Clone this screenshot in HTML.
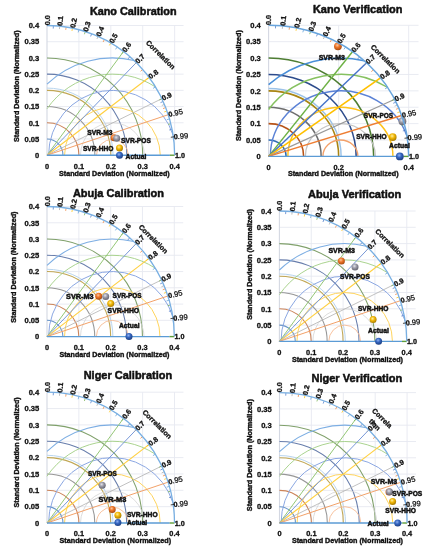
<!DOCTYPE html>
<html><head><meta charset="utf-8"><title>Taylor diagrams</title>
<style>
html,body{margin:0;padding:0;background:#fff;}
svg{display:block;filter:blur(0.3px);}
text{font-family:"Liberation Sans",Arial,sans-serif;font-weight:bold;fill:#111;stroke:#111;stroke-width:0.5px;stroke-linejoin:round;}
text.at{stroke-width:0.38px;}
text.cl{stroke-width:0.32px;}
text.tk{stroke-width:0.3px;}
text.cw{stroke-width:0.3px;}
tspan.nw{font-weight:normal;stroke-width:0.25px;font-size:7.6px;}
</style></head>
<body>
<svg width="430" height="550" viewBox="0 0 430 550">
<defs><radialGradient id="gACT" cx="0.42" cy="0.36" r="0.65"><stop offset="0" stop-color="#8FB0EE"/><stop offset="0.45" stop-color="#3465C0"/><stop offset="1" stop-color="#1E3F80"/></radialGradient><radialGradient id="gHHO" cx="0.42" cy="0.36" r="0.65"><stop offset="0" stop-color="#FFF0A0"/><stop offset="0.45" stop-color="#F2B807"/><stop offset="1" stop-color="#A87A00"/></radialGradient><radialGradient id="gPOS" cx="0.42" cy="0.36" r="0.65"><stop offset="0" stop-color="#E4E4EC"/><stop offset="0.45" stop-color="#9C9CA8"/><stop offset="1" stop-color="#62626E"/></radialGradient><radialGradient id="gM3" cx="0.42" cy="0.36" r="0.65"><stop offset="0" stop-color="#FFC8A0"/><stop offset="0.45" stop-color="#EC7427"/><stop offset="1" stop-color="#A84A10"/></radialGradient></defs>
<rect width="430" height="550" fill="#fff"/>
<path d="M47 138.99H183.57M47 122.77H183.57M47 106.56H183.57M47 90.35H183.57M47 74.14H183.57M47 57.92H183.57M47 41.71H183.57M47 25.5H183.57M78.91 155.2V25.5M110.82 155.2V25.5M142.73 155.2V25.5M174.64 155.2V25.5" stroke="#E6E9F1" stroke-width="0.9" fill="none"/>
<path d="M47 155.2V25.5" stroke="#D4D8E2" stroke-width="1.1" fill="none"/>
<path d="M47 138.99A15.96 16.21 0 0 1 62.95 155.2" stroke="#6996C9" stroke-width="1.066" fill="none"/>
<path d="M47 122.77A31.91 32.43 0 0 1 78.91 155.2" stroke="#CC8459" stroke-width="1.066" fill="none"/>
<path d="M47 106.56A47.87 48.64 0 0 1 94.87 155.2" stroke="#979797" stroke-width="1.066" fill="none"/>
<path d="M47 90.35A63.82 64.85 0 0 1 110.82 155.2" stroke="#C1A754" stroke-width="1.066" fill="none"/>
<path d="M47 88.08A66.05 67.12 0 0 1 113.05 155.2" stroke="#B8D4EE" stroke-width="0.9839999999999999" fill="none"/>
<path d="M47 74.14A79.78 81.06 0 0 1 126.78 155.2" stroke="#687EAC" stroke-width="1.066" fill="none"/>
<path d="M47 57.92A95.73 97.27 0 0 1 142.73 155.2" stroke="#80A16B" stroke-width="1.066" fill="none"/>
<path d="M96.46 155.2A15.96 16.21 0 0 1 128.37 155.2" stroke="#F6BB94" stroke-width="0.902" fill="none"/>
<path d="M80.51 155.2A31.91 32.43 0 0 1 144.33 155.2" stroke="#D5D5D5" stroke-width="0.82" fill="none"/>
<path d="M64.55 155.2A47.87 48.64 0 0 1 160.28 155.2" stroke="#FFD35A" stroke-width="0.9839999999999999" fill="none"/>
<path d="M48.6 155.2A63.82 64.85 0 0 1 173.1 135.13" stroke="#89A5E1" stroke-width="0.9839999999999999" fill="none"/>
<path d="M47 108.8A79.78 81.06 0 0 1 155.59 87.04" stroke="#A8D28D" stroke-width="0.9839999999999999" fill="none"/>
<path d="M47 84.18A95.73 97.27 0 0 1 134.19 60.47" stroke="#7DAEE3" stroke-width="1.066" fill="none"/>
<path d="M47 155.2L123.97 50.92" stroke="#92C573" stroke-width="0.9839999999999999" fill="none"/>
<path d="M47 155.2L136.79 62.11" stroke="#7596D7" stroke-width="0.9839999999999999" fill="none"/>
<path d="M47 155.2L149.62 76.99" stroke="#FFD040" stroke-width="1.148" fill="none"/>
<path d="M47 155.2L162.45 98.38" stroke="#B3B3B3" stroke-width="0.82" fill="none"/>
<path d="M47 155.2L168.86 114.5" stroke="#F29F66" stroke-width="0.9839999999999999" fill="none"/>
<path d="M47 155.2H169.85" stroke="#5B9BD5" stroke-width="1.4" fill="none"/>
<path d="M169.85 155.2H174.64" stroke="#5E9E3A" stroke-width="1.4" fill="none"/>
<g fill="none" opacity="0.9"><path d="M53.24 28.58L53.37 25.99" stroke="#4472C4" stroke-width="0.8"/><path d="M59.48 29.05L59.73 26.47" stroke="#A5A5A5" stroke-width="0.8"/><path d="M65.72 29.85L66.1 27.29" stroke="#ED7D31" stroke-width="0.8"/><path d="M71.95 30.98L72.46 28.44" stroke="#FFC000" stroke-width="0.8"/><path d="M78.19 32.44L78.83 29.93" stroke="#5B9BD5" stroke-width="0.8"/><path d="M84.43 34.26L85.2 31.78" stroke="#70AD47" stroke-width="0.8"/><path d="M90.67 36.44L91.56 34.01" stroke="#4472C4" stroke-width="0.8"/><path d="M96.91 39L97.93 36.63" stroke="#A5A5A5" stroke-width="0.8"/><path d="M103.15 41.98L104.29 39.66" stroke="#ED7D31" stroke-width="0.8"/><path d="M109.38 45.4L110.66 43.16" stroke="#FFC000" stroke-width="0.8"/><path d="M115.62 49.32L117.03 47.15" stroke="#5B9BD5" stroke-width="0.8"/><path d="M121.86 53.77L123.39 51.7" stroke="#70AD47" stroke-width="0.8"/><path d="M128.1 58.85L129.76 56.88" stroke="#4472C4" stroke-width="0.8"/><path d="M134.34 64.66L136.12 62.81" stroke="#A5A5A5" stroke-width="0.8"/><path d="M140.58 71.34L142.49 69.63" stroke="#ED7D31" stroke-width="0.8"/><path d="M146.81 79.13L148.86 77.57" stroke="#FFC000" stroke-width="0.8"/><path d="M153.05 88.41L155.22 87.05" stroke="#5B9BD5" stroke-width="0.8"/><path d="M159.29 99.94L161.59 98.81" stroke="#70AD47" stroke-width="0.8"/><path d="M160.54 102.64L162.86 101.56" stroke="#4472C4" stroke-width="0.8"/><path d="M161.79 105.51L164.14 104.5" stroke="#A5A5A5" stroke-width="0.8"/><path d="M163.03 108.6L165.41 107.65" stroke="#ED7D31" stroke-width="0.8"/><path d="M164.28 111.95L166.68 111.06" stroke="#FFC000" stroke-width="0.8"/><path d="M166.78 119.7L169.23 118.97" stroke="#5B9BD5" stroke-width="0.8"/><path d="M168.03 124.38L170.5 123.75" stroke="#70AD47" stroke-width="0.8"/><path d="M169.27 129.97L171.77 129.45" stroke="#4472C4" stroke-width="0.8"/></g>
<circle cx="114" cy="137.8" r="3.5" fill="url(#gM3)"/>
<circle cx="116.7" cy="138.3" r="3.5" fill="url(#gPOS)"/>
<circle cx="119.5" cy="148" r="3.5" fill="url(#gHHO)"/>
<circle cx="119.5" cy="155.3" r="3.5" fill="url(#gACT)"/>
<path d="M47 25.5A127.64 129.7 0 0 1 174.64 155.2" stroke="#78AFE2" stroke-width="1.3" fill="none"/>
<path d="M170.84 137.27L174.63 136.72" stroke="#333" stroke-width="0.9" fill="none"/>
<text transform="translate(47 25.2) rotate(-90)" x="0" y="2.5" font-size="7.2" class="cl">0.0</text>
<text transform="translate(59.79 25.85) rotate(-84.35)" x="0" y="2.5" font-size="7.2" class="cl">0.1</text>
<text transform="translate(72.59 27.83) rotate(-78.64)" x="0" y="2.5" font-size="7.2" class="cl">0.2</text>
<text transform="translate(85.38 31.19) rotate(-72.8)" x="0" y="2.5" font-size="7.2" class="cl">0.3</text>
<text transform="translate(98.17 36.05) rotate(-66.76)" x="0" y="2.5" font-size="7.2" class="cl">0.4</text>
<text transform="translate(110.97 42.62) rotate(-60.4)" x="0" y="2.5" font-size="7.2" class="cl">0.5</text>
<text transform="translate(123.76 51.2) rotate(-53.57)" x="0" y="2.5" font-size="7.2" class="cl">0.6</text>
<text transform="translate(136.56 62.36) rotate(-46.03)" x="0" y="2.5" font-size="7.2" class="cl">0.7</text>
<text transform="translate(149.35 77.2) rotate(-37.31)" x="0" y="2.5" font-size="7.2" class="cl">0.8</text>
<text transform="translate(162.15 98.53) rotate(-26.2)" x="0" y="2.5" font-size="7.2" class="cl">0.9</text>
<text transform="translate(168.54 114.61) rotate(-12.93)" x="0" y="2.5" font-size="7.2" class="cl">0<tspan class="nw">.95</tspan></text>
<text transform="translate(173.66 136.86) rotate(-4.94)" x="0" y="2.5" font-size="7.2" class="cl">0<tspan class="nw">.99</tspan></text>
<text transform="translate(174.94 155.2) rotate(-0)" x="0" y="2.5" font-size="7.2" class="cl">1.0</text>
<text transform="translate(160.7 54.7) rotate(44.5)" x="0" y="2.5" font-size="7.1" text-anchor="middle" class="cw">Correlation</text>
<text x="39.2" y="157.95" font-size="7.6" text-anchor="end" class="tk">0</text>
<text x="39.2" y="141.74" font-size="7.6" text-anchor="end" class="tk">0.05</text>
<text x="39.2" y="125.52" font-size="7.6" text-anchor="end" class="tk">0.1</text>
<text x="39.2" y="109.31" font-size="7.6" text-anchor="end" class="tk">0.15</text>
<text x="39.2" y="93.1" font-size="7.6" text-anchor="end" class="tk">0.2</text>
<text x="39.2" y="76.89" font-size="7.6" text-anchor="end" class="tk">0.25</text>
<text x="39.2" y="60.67" font-size="7.6" text-anchor="end" class="tk">0.3</text>
<text x="39.2" y="44.46" font-size="7.6" text-anchor="end" class="tk">0.35</text>
<text x="39.2" y="28.25" font-size="7.6" text-anchor="end" class="tk">0.4</text>
<text x="47" y="168.5" font-size="7.4" text-anchor="middle" class="tk">0</text>
<text x="78.91" y="168.5" font-size="7.4" text-anchor="middle" class="tk">0.1</text>
<text x="110.82" y="168.5" font-size="7.4" text-anchor="middle" class="tk">0.2</text>
<text x="142.73" y="168.5" font-size="7.4" text-anchor="middle" class="tk">0.3</text>
<text x="174.64" y="168.5" font-size="7.4" text-anchor="middle" class="tk">0.4</text>
<text x="59.1" y="175.5" font-size="7.2" textLength="110.6" lengthAdjust="spacingAndGlyphs" class="at">Standard Deviation (Normalized)</text>
<text transform="translate(19.3 142) rotate(-90)" x="0" y="0" font-size="7.3" class="at" textLength="111.6" lengthAdjust="spacingAndGlyphs">Standard Deviation (Normalized)</text>
<text x="89.9" y="15" font-size="11" textLength="86.7" lengthAdjust="spacingAndGlyphs">Kano Calibration</text>
<text x="87.3" y="134.9" font-size="7.4" textLength="25.2" lengthAdjust="spacingAndGlyphs">SVR-M3</text>
<text x="121.1" y="142.6" font-size="7.4" textLength="29.7" lengthAdjust="spacingAndGlyphs">SVR-POS</text>
<text x="82.9" y="151.3" font-size="7.4" textLength="30.6" lengthAdjust="spacingAndGlyphs">SVR-HHO</text>
<text x="125.6" y="158.5" font-size="7.4" textLength="20.7" lengthAdjust="spacingAndGlyphs">Actual</text>
<path d="M268.6 140.01H418.51M268.6 123.62H418.51M268.6 107.24H418.51M268.6 90.85H418.51M268.6 74.46H418.51M268.6 58.07H418.51M268.6 41.69H418.51M268.6 25.3H418.51M338.65 156.4V25.3M408.7 156.4V25.3" stroke="#E6E9F1" stroke-width="0.9" fill="none"/>
<path d="M268.6 156.4V25.3" stroke="#D4D8E2" stroke-width="1.1" fill="none"/>
<path d="M268.6 140.01A17.51 16.39 0 0 1 286.11 156.4" stroke="#2E6DB4" stroke-width="1.56" fill="none"/>
<path d="M268.6 123.62A35.02 32.77 0 0 1 303.62 156.4" stroke="#B85418" stroke-width="1.56" fill="none"/>
<path d="M268.6 107.24A52.54 49.16 0 0 1 321.14 156.4" stroke="#6E6E6E" stroke-width="1.56" fill="none"/>
<path d="M268.6 90.85A70.05 65.55 0 0 1 338.65 156.4" stroke="#A98512" stroke-width="1.56" fill="none"/>
<path d="M268.6 88.56A72.5 67.84 0 0 1 341.1 156.4" stroke="#9CC3E8" stroke-width="1.44" fill="none"/>
<path d="M268.6 74.46A87.56 81.94 0 0 1 356.16 156.4" stroke="#2D4C8C" stroke-width="1.56" fill="none"/>
<path d="M268.6 58.08A105.08 98.33 0 0 1 373.68 156.4" stroke="#4E7D32" stroke-width="1.56" fill="none"/>
<path d="M322.89 156.4A17.51 16.39 0 0 1 357.91 156.4" stroke="#F2A06A" stroke-width="1.32" fill="none"/>
<path d="M305.38 156.4A35.02 32.77 0 0 1 375.43 156.4" stroke="#C4C4C4" stroke-width="1.2" fill="none"/>
<path d="M287.86 156.4A52.54 49.16 0 0 1 392.94 156.4" stroke="#FFC21A" stroke-width="1.44" fill="none"/>
<path d="M270.35 156.4A70.05 65.55 0 0 1 407.01 136.12" stroke="#5B82D6" stroke-width="1.44" fill="none"/>
<path d="M268.6 109.5A87.56 81.94 0 0 1 387.79 87.5" stroke="#86C160" stroke-width="1.44" fill="none"/>
<path d="M268.6 84.61A105.08 98.33 0 0 1 364.3 60.65" stroke="#4A8FD8" stroke-width="1.56" fill="none"/>
<path d="M268.6 156.4L353.08 51" stroke="#6DB144" stroke-width="1.44" fill="none"/>
<path d="M268.6 156.4L367.16 62.31" stroke="#4673C9" stroke-width="1.44" fill="none"/>
<path d="M268.6 156.4L381.24 77.35" stroke="#FFC000" stroke-width="1.68" fill="none"/>
<path d="M268.6 156.4L395.32 98.97" stroke="#9A9A9A" stroke-width="1.2" fill="none"/>
<path d="M268.6 156.4L402.36 115.26" stroke="#EE7E33" stroke-width="1.44" fill="none"/>
<path d="M268.6 156.4H403.45" stroke="#5B9BD5" stroke-width="1.4" fill="none"/>
<path d="M403.45 156.4H408.7" stroke="#5E9E3A" stroke-width="1.4" fill="none"/>
<g fill="none" opacity="0.9"><path d="M275.45 28.41L275.59 25.79" stroke="#4472C4" stroke-width="0.8"/><path d="M282.29 28.89L282.57 26.28" stroke="#A5A5A5" stroke-width="0.8"/><path d="M289.14 29.7L289.56 27.11" stroke="#ED7D31" stroke-width="0.8"/><path d="M295.99 30.84L296.55 28.27" stroke="#FFC000" stroke-width="0.8"/><path d="M302.84 32.32L303.54 29.78" stroke="#5B9BD5" stroke-width="0.8"/><path d="M309.68 34.15L310.52 31.65" stroke="#70AD47" stroke-width="0.8"/><path d="M316.53 36.36L317.51 33.9" stroke="#4472C4" stroke-width="0.8"/><path d="M323.38 38.95L324.5 36.55" stroke="#A5A5A5" stroke-width="0.8"/><path d="M330.23 41.96L331.49 39.62" stroke="#ED7D31" stroke-width="0.8"/><path d="M337.07 45.42L338.47 43.15" stroke="#FFC000" stroke-width="0.8"/><path d="M343.92 49.37L345.46 47.18" stroke="#5B9BD5" stroke-width="0.8"/><path d="M350.77 53.88L352.45 51.78" stroke="#70AD47" stroke-width="0.8"/><path d="M357.62 59.01L359.44 57.02" stroke="#4472C4" stroke-width="0.8"/><path d="M364.46 64.88L366.42 63.01" stroke="#A5A5A5" stroke-width="0.8"/><path d="M371.31 71.64L373.41 69.9" stroke="#ED7D31" stroke-width="0.8"/><path d="M378.16 79.51L380.4 77.94" stroke="#FFC000" stroke-width="0.8"/><path d="M385.01 88.89L387.39 87.51" stroke="#5B9BD5" stroke-width="0.8"/><path d="M391.85 100.54L394.37 99.4" stroke="#70AD47" stroke-width="0.8"/><path d="M393.22 103.27L395.77 102.18" stroke="#4472C4" stroke-width="0.8"/><path d="M394.59 106.18L397.17 105.15" stroke="#A5A5A5" stroke-width="0.8"/><path d="M395.96 109.3L398.57 108.33" stroke="#ED7D31" stroke-width="0.8"/><path d="M397.33 112.68L399.96 111.78" stroke="#FFC000" stroke-width="0.8"/><path d="M400.07 120.52L402.76 119.78" stroke="#5B9BD5" stroke-width="0.8"/><path d="M401.44 125.25L404.16 124.61" stroke="#70AD47" stroke-width="0.8"/><path d="M402.81 130.9L405.55 130.38" stroke="#4472C4" stroke-width="0.8"/></g>
<circle cx="337.9" cy="46.3" r="3.9" fill="url(#gM3)"/>
<circle cx="402.4" cy="121.2" r="3.9" fill="url(#gPOS)"/>
<circle cx="392.7" cy="137.1" r="3.9" fill="url(#gHHO)"/>
<circle cx="399.8" cy="156.4" r="3.9" fill="url(#gACT)"/>
<path d="M268.6 25.3A140.1 131.1 0 0 1 408.7 156.4" stroke="#68A5DD" stroke-width="1.5" fill="none"/>
<path d="M404.53 138.28L408.69 137.72" stroke="#333" stroke-width="0.9" fill="none"/>
<text transform="translate(268.6 25) rotate(-90)" x="0" y="2.5" font-size="7.2" class="cl">0.0</text>
<text transform="translate(282.64 25.66) rotate(-83.87)" x="0" y="2.5" font-size="7.2" class="cl">0.1</text>
<text transform="translate(296.68 27.66) rotate(-77.69)" x="0" y="2.5" font-size="7.2" class="cl">0.2</text>
<text transform="translate(310.73 31.05) rotate(-71.42)" x="0" y="2.5" font-size="7.2" class="cl">0.3</text>
<text transform="translate(324.77 35.97) rotate(-65)" x="0" y="2.5" font-size="7.2" class="cl">0.4</text>
<text transform="translate(338.81 42.61) rotate(-58.33)" x="0" y="2.5" font-size="7.2" class="cl">0.5</text>
<text transform="translate(352.85 51.29) rotate(-51.29)" x="0" y="2.5" font-size="7.2" class="cl">0.6</text>
<text transform="translate(366.89 62.57) rotate(-43.67)" x="0" y="2.5" font-size="7.2" class="cl">0.7</text>
<text transform="translate(380.93 77.57) rotate(-35.06)" x="0" y="2.5" font-size="7.2" class="cl">0.8</text>
<text transform="translate(394.96 99.13) rotate(-24.38)" x="0" y="2.5" font-size="7.2" class="cl">0.9</text>
<text transform="translate(401.98 115.38) rotate(-11.97)" x="0" y="2.5" font-size="7.2" class="cl">0<tspan class="nw">.95</tspan></text>
<text transform="translate(407.6 137.87) rotate(-4.56)" x="0" y="2.5" font-size="7.2" class="cl">0<tspan class="nw">.99</tspan></text>
<text transform="translate(409 156.4) rotate(-0)" x="0" y="2.5" font-size="7.2" class="cl">1.0</text>
<text transform="translate(385.5 58.9) rotate(44.5)" x="0" y="2.5" font-size="7.1" text-anchor="middle" class="cw">Correlation</text>
<text x="260.8" y="159.15" font-size="7.6" text-anchor="end" class="tk">0</text>
<text x="260.8" y="142.76" font-size="7.6" text-anchor="end" class="tk">0.05</text>
<text x="260.8" y="126.38" font-size="7.6" text-anchor="end" class="tk">0.1</text>
<text x="260.8" y="109.99" font-size="7.6" text-anchor="end" class="tk">0.15</text>
<text x="260.8" y="93.6" font-size="7.6" text-anchor="end" class="tk">0.2</text>
<text x="260.8" y="77.21" font-size="7.6" text-anchor="end" class="tk">0.25</text>
<text x="260.8" y="60.82" font-size="7.6" text-anchor="end" class="tk">0.3</text>
<text x="260.8" y="44.44" font-size="7.6" text-anchor="end" class="tk">0.35</text>
<text x="260.8" y="28.05" font-size="7.6" text-anchor="end" class="tk">0.4</text>
<text x="268.6" y="169.7" font-size="7.4" text-anchor="middle" class="tk">0</text>
<text x="338.65" y="169.7" font-size="7.4" text-anchor="middle" class="tk">0.2</text>
<text x="408.7" y="169.7" font-size="7.4" text-anchor="middle" class="tk">0.4</text>
<text x="287.9" y="176" font-size="7.2" textLength="110.7" lengthAdjust="spacingAndGlyphs" class="at">Standard Deviation (Normalized)</text>
<text transform="translate(241.2 141.1) rotate(-90)" x="0" y="0" font-size="7.3" class="at" textLength="110.9" lengthAdjust="spacingAndGlyphs">Standard Deviation (Normalized)</text>
<text x="312.9" y="12.6" font-size="11" textLength="89.5" lengthAdjust="spacingAndGlyphs">Kano Verification</text>
<text x="318.7" y="60.1" font-size="7.4" textLength="26.2" lengthAdjust="spacingAndGlyphs">SVR-M3</text>
<text x="363.8" y="117.7" font-size="7.4" textLength="29.4" lengthAdjust="spacingAndGlyphs">SVR-POS</text>
<text x="356.2" y="138.8" font-size="7.4" textLength="30.4" lengthAdjust="spacingAndGlyphs">SVR-HHO</text>
<text x="389.1" y="148.2" font-size="7.4" textLength="20.9" lengthAdjust="spacingAndGlyphs">Actual</text>
<path d="M47 320.34H183.21M47 304.08H183.21M47 287.81H183.21M47 271.55H183.21M47 255.29H183.21M47 239.03H183.21M47 222.76H183.21M47 206.5H183.21M78.83 336.6V206.5M110.65 336.6V206.5M142.47 336.6V206.5M174.3 336.6V206.5" stroke="#E6E9F1" stroke-width="0.9" fill="none"/>
<path d="M47 336.6V206.5" stroke="#D4D8E2" stroke-width="1.1" fill="none"/>
<path d="M47 320.34A15.91 16.26 0 0 1 62.91 336.6" stroke="#6996C9" stroke-width="1.066" fill="none"/>
<path d="M47 304.08A31.83 32.52 0 0 1 78.83 336.6" stroke="#CC8459" stroke-width="1.066" fill="none"/>
<path d="M47 287.81A47.74 48.79 0 0 1 94.74 336.6" stroke="#979797" stroke-width="1.066" fill="none"/>
<path d="M47 271.55A63.65 65.05 0 0 1 110.65 336.6" stroke="#C1A754" stroke-width="1.066" fill="none"/>
<path d="M47 269.27A65.88 67.33 0 0 1 112.88 336.6" stroke="#B8D4EE" stroke-width="0.9839999999999999" fill="none"/>
<path d="M47 255.29A79.56 81.31 0 0 1 126.56 336.6" stroke="#687EAC" stroke-width="1.066" fill="none"/>
<path d="M47 239.03A95.47 97.58 0 0 1 142.47 336.6" stroke="#80A16B" stroke-width="1.066" fill="none"/>
<path d="M96.33 336.6A15.91 16.26 0 0 1 128.15 336.6" stroke="#F6BB94" stroke-width="0.902" fill="none"/>
<path d="M80.42 336.6A31.83 32.52 0 0 1 144.07 336.6" stroke="#D5D5D5" stroke-width="0.82" fill="none"/>
<path d="M64.5 336.6A47.74 48.79 0 0 1 159.98 336.6" stroke="#FFD35A" stroke-width="0.9839999999999999" fill="none"/>
<path d="M48.59 336.6A63.65 65.05 0 0 1 172.77 316.47" stroke="#89A5E1" stroke-width="0.9839999999999999" fill="none"/>
<path d="M47 290.06A79.56 81.31 0 0 1 155.3 268.23" stroke="#A8D28D" stroke-width="0.9839999999999999" fill="none"/>
<path d="M47 265.36A95.47 97.58 0 0 1 133.96 241.58" stroke="#7DAEE3" stroke-width="1.066" fill="none"/>
<path d="M47 336.6L123.76 232" stroke="#92C573" stroke-width="0.9839999999999999" fill="none"/>
<path d="M47 336.6L136.56 243.23" stroke="#7596D7" stroke-width="0.9839999999999999" fill="none"/>
<path d="M47 336.6L149.35 258.15" stroke="#FFD040" stroke-width="1.148" fill="none"/>
<path d="M47 336.6L162.14 279.61" stroke="#B3B3B3" stroke-width="0.82" fill="none"/>
<path d="M47 336.6L168.54 295.77" stroke="#F29F66" stroke-width="0.9839999999999999" fill="none"/>
<path d="M47 336.6H169.53" stroke="#5B9BD5" stroke-width="1.4" fill="none"/>
<path d="M169.53 336.6H174.3" stroke="#5E9E3A" stroke-width="1.4" fill="none"/>
<g fill="none" opacity="0.9"><path d="M53.22 209.59L53.35 206.99" stroke="#4472C4" stroke-width="0.8"/><path d="M59.44 210.06L59.7 207.48" stroke="#A5A5A5" stroke-width="0.8"/><path d="M65.67 210.87L66.05 208.29" stroke="#ED7D31" stroke-width="0.8"/><path d="M71.89 212L72.4 209.45" stroke="#FFC000" stroke-width="0.8"/><path d="M78.11 213.47L78.75 210.95" stroke="#5B9BD5" stroke-width="0.8"/><path d="M84.33 215.28L85.09 212.8" stroke="#70AD47" stroke-width="0.8"/><path d="M90.55 217.47L91.44 215.03" stroke="#4472C4" stroke-width="0.8"/><path d="M96.77 220.04L97.79 217.66" stroke="#A5A5A5" stroke-width="0.8"/><path d="M103 223.03L104.14 220.71" stroke="#ED7D31" stroke-width="0.8"/><path d="M109.22 226.47L110.49 224.21" stroke="#FFC000" stroke-width="0.8"/><path d="M115.44 230.39L116.84 228.22" stroke="#5B9BD5" stroke-width="0.8"/><path d="M121.66 234.86L123.19 232.78" stroke="#70AD47" stroke-width="0.8"/><path d="M127.88 239.96L129.54 237.98" stroke="#4472C4" stroke-width="0.8"/><path d="M134.11 245.78L135.89 243.92" stroke="#A5A5A5" stroke-width="0.8"/><path d="M140.33 252.48L142.24 250.76" stroke="#ED7D31" stroke-width="0.8"/><path d="M146.55 260.3L148.59 258.74" stroke="#FFC000" stroke-width="0.8"/><path d="M152.77 269.61L154.93 268.24" stroke="#5B9BD5" stroke-width="0.8"/><path d="M158.99 281.17L161.28 280.03" stroke="#70AD47" stroke-width="0.8"/><path d="M160.24 283.87L162.55 282.79" stroke="#4472C4" stroke-width="0.8"/><path d="M161.48 286.76L163.82 285.74" stroke="#A5A5A5" stroke-width="0.8"/><path d="M162.73 289.86L165.09 288.9" stroke="#ED7D31" stroke-width="0.8"/><path d="M163.97 293.21L166.36 292.32" stroke="#FFC000" stroke-width="0.8"/><path d="M166.46 300.99L168.9 300.26" stroke="#5B9BD5" stroke-width="0.8"/><path d="M167.7 305.68L170.17 305.05" stroke="#70AD47" stroke-width="0.8"/><path d="M168.95 311.29L171.44 310.78" stroke="#4472C4" stroke-width="0.8"/></g>
<circle cx="98.7" cy="296.2" r="3.5" fill="url(#gM3)"/>
<circle cx="105.7" cy="296.5" r="3.5" fill="url(#gPOS)"/>
<circle cx="110.7" cy="303.6" r="3.5" fill="url(#gHHO)"/>
<circle cx="129" cy="336.4" r="3.5" fill="url(#gACT)"/>
<path d="M47 206.5A127.3 130.1 0 0 1 174.3 336.6" stroke="#78AFE2" stroke-width="1.3" fill="none"/>
<path d="M170.51 318.61L174.29 318.06" stroke="#333" stroke-width="0.9" fill="none"/>
<text transform="translate(47 206.2) rotate(-90)" x="0" y="2.5" font-size="7.2" class="cl">0.0</text>
<text transform="translate(59.76 206.85) rotate(-84.38)" x="0" y="2.5" font-size="7.2" class="cl">0.1</text>
<text transform="translate(72.52 208.83) rotate(-78.7)" x="0" y="2.5" font-size="7.2" class="cl">0.2</text>
<text transform="translate(85.28 212.21) rotate(-72.9)" x="0" y="2.5" font-size="7.2" class="cl">0.3</text>
<text transform="translate(98.04 217.09) rotate(-66.88)" x="0" y="2.5" font-size="7.2" class="cl">0.4</text>
<text transform="translate(110.8 223.67) rotate(-60.54)" x="0" y="2.5" font-size="7.2" class="cl">0.5</text>
<text transform="translate(123.56 232.28) rotate(-53.73)" x="0" y="2.5" font-size="7.2" class="cl">0.6</text>
<text transform="translate(136.32 243.47) rotate(-46.2)" x="0" y="2.5" font-size="7.2" class="cl">0.7</text>
<text transform="translate(149.08 258.36) rotate(-37.47)" x="0" y="2.5" font-size="7.2" class="cl">0.8</text>
<text transform="translate(161.84 279.76) rotate(-26.33)" x="0" y="2.5" font-size="7.2" class="cl">0.9</text>
<text transform="translate(168.22 295.88) rotate(-13)" x="0" y="2.5" font-size="7.2" class="cl">0<tspan class="nw">.95</tspan></text>
<text transform="translate(173.32 318.2) rotate(-4.97)" x="0" y="2.5" font-size="7.2" class="cl">0<tspan class="nw">.99</tspan></text>
<text transform="translate(174.6 336.6) rotate(-0)" x="0" y="2.5" font-size="7.2" class="cl">1.0</text>
<text transform="translate(153.4 238.9) rotate(44.5)" x="0" y="2.5" font-size="7.1" text-anchor="middle" class="cw">Correlation</text>
<text x="39.2" y="339.35" font-size="7.6" text-anchor="end" class="tk">0</text>
<text x="39.2" y="323.09" font-size="7.6" text-anchor="end" class="tk">0.05</text>
<text x="39.2" y="306.83" font-size="7.6" text-anchor="end" class="tk">0.1</text>
<text x="39.2" y="290.56" font-size="7.6" text-anchor="end" class="tk">0.15</text>
<text x="39.2" y="274.3" font-size="7.6" text-anchor="end" class="tk">0.2</text>
<text x="39.2" y="258.04" font-size="7.6" text-anchor="end" class="tk">0.25</text>
<text x="39.2" y="241.78" font-size="7.6" text-anchor="end" class="tk">0.3</text>
<text x="39.2" y="225.51" font-size="7.6" text-anchor="end" class="tk">0.35</text>
<text x="39.2" y="209.25" font-size="7.6" text-anchor="end" class="tk">0.4</text>
<text x="47" y="349.9" font-size="7.4" text-anchor="middle" class="tk">0</text>
<text x="78.83" y="349.9" font-size="7.4" text-anchor="middle" class="tk">0.1</text>
<text x="110.65" y="349.9" font-size="7.4" text-anchor="middle" class="tk">0.2</text>
<text x="142.47" y="349.9" font-size="7.4" text-anchor="middle" class="tk">0.3</text>
<text x="174.3" y="349.9" font-size="7.4" text-anchor="middle" class="tk">0.4</text>
<text x="59.5" y="357" font-size="7.2" textLength="110" lengthAdjust="spacingAndGlyphs" class="at">Standard Deviation (Normalized)</text>
<text transform="translate(15.9 322.8) rotate(-90)" x="0" y="0" font-size="7.3" class="at" textLength="111.3" lengthAdjust="spacingAndGlyphs">Standard Deviation (Normalized)</text>
<text x="72.9" y="196.6" font-size="11" textLength="91.1" lengthAdjust="spacingAndGlyphs">Abuja Calibration</text>
<text x="66.1" y="299.1" font-size="7.4" textLength="27.5" lengthAdjust="spacingAndGlyphs">SVR-M3</text>
<text x="112.6" y="297.8" font-size="7.4" textLength="29" lengthAdjust="spacingAndGlyphs">SVR-POS</text>
<text x="107.6" y="313.1" font-size="7.4" textLength="31.6" lengthAdjust="spacingAndGlyphs">SVR-HHO</text>
<text x="119" y="327.6" font-size="7.4" textLength="20.5" lengthAdjust="spacingAndGlyphs">Actual</text>
<path d="M279.4 325.1H415.68M279.4 308.8H415.68M279.4 292.5H415.68M279.4 276.2H415.68M279.4 259.9H415.68M279.4 243.6H415.68M279.4 227.3H415.68M279.4 211H415.68M311.24 341.4V211M343.08 341.4V211M374.92 341.4V211M406.76 341.4V211" stroke="#E6E9F1" stroke-width="0.9" fill="none"/>
<path d="M279.4 341.4V211" stroke="#D4D8E2" stroke-width="1.1" fill="none"/>
<path d="M279.4 325.1A15.92 16.3 0 0 1 295.32 341.4" stroke="#6996C9" stroke-width="1.066" fill="none"/>
<path d="M279.4 308.8A31.84 32.6 0 0 1 311.24 341.4" stroke="#CC8459" stroke-width="1.066" fill="none"/>
<path d="M279.4 292.5A47.76 48.9 0 0 1 327.16 341.4" stroke="#979797" stroke-width="1.066" fill="none"/>
<path d="M279.4 276.2A63.68 65.2 0 0 1 343.08 341.4" stroke="#C1A754" stroke-width="1.066" fill="none"/>
<path d="M279.4 273.92A65.91 67.48 0 0 1 345.31 341.4" stroke="#B8D4EE" stroke-width="0.9839999999999999" fill="none"/>
<path d="M279.4 259.9A79.6 81.5 0 0 1 359 341.4" stroke="#687EAC" stroke-width="1.066" fill="none"/>
<path d="M279.4 243.6A95.52 97.8 0 0 1 374.92 341.4" stroke="#80A16B" stroke-width="1.066" fill="none"/>
<path d="M328.75 341.4A15.92 16.3 0 0 1 360.59 341.4" stroke="#F6BB94" stroke-width="0.902" fill="none"/>
<path d="M312.83 341.4A31.84 32.6 0 0 1 376.51 341.4" stroke="#D5D5D5" stroke-width="0.82" fill="none"/>
<path d="M296.91 341.4A47.76 48.9 0 0 1 392.43 341.4" stroke="#FFD35A" stroke-width="0.9839999999999999" fill="none"/>
<path d="M280.99 341.4A63.68 65.2 0 0 1 405.23 321.22" stroke="#89A5E1" stroke-width="0.9839999999999999" fill="none"/>
<path d="M279.4 294.75A79.6 81.5 0 0 1 387.75 272.87" stroke="#A8D28D" stroke-width="0.9839999999999999" fill="none"/>
<path d="M279.4 270A95.52 97.8 0 0 1 366.4 246.16" stroke="#7DAEE3" stroke-width="1.066" fill="none"/>
<path d="M279.4 341.4L356.2 236.56" stroke="#92C573" stroke-width="0.9839999999999999" fill="none"/>
<path d="M279.4 341.4L369 247.81" stroke="#7596D7" stroke-width="0.9839999999999999" fill="none"/>
<path d="M279.4 341.4L381.8 262.77" stroke="#FFD040" stroke-width="1.148" fill="none"/>
<path d="M279.4 341.4L394.6 284.28" stroke="#B3B3B3" stroke-width="0.82" fill="none"/>
<path d="M279.4 341.4L401 300.48" stroke="#F29F66" stroke-width="0.9839999999999999" fill="none"/>
<path d="M279.4 341.4H401.98" stroke="#5B9BD5" stroke-width="1.4" fill="none"/>
<path d="M401.98 341.4H406.76" stroke="#5E9E3A" stroke-width="1.4" fill="none"/>
<g fill="none" opacity="0.9"><path d="M285.62 214.09L285.75 211.49" stroke="#4472C4" stroke-width="0.8"/><path d="M291.85 214.57L292.1 211.98" stroke="#A5A5A5" stroke-width="0.8"/><path d="M298.07 215.38L298.46 212.8" stroke="#ED7D31" stroke-width="0.8"/><path d="M304.3 216.51L304.81 213.95" stroke="#FFC000" stroke-width="0.8"/><path d="M310.52 217.98L311.16 215.46" stroke="#5B9BD5" stroke-width="0.8"/><path d="M316.75 219.81L317.51 217.32" stroke="#70AD47" stroke-width="0.8"/><path d="M322.97 222L323.86 219.55" stroke="#4472C4" stroke-width="0.8"/><path d="M329.2 224.58L330.22 222.19" stroke="#A5A5A5" stroke-width="0.8"/><path d="M335.42 227.57L336.57 225.24" stroke="#ED7D31" stroke-width="0.8"/><path d="M341.65 231.01L342.92 228.75" stroke="#FFC000" stroke-width="0.8"/><path d="M347.87 234.94L349.27 232.77" stroke="#5B9BD5" stroke-width="0.8"/><path d="M354.1 239.43L355.62 237.34" stroke="#70AD47" stroke-width="0.8"/><path d="M360.32 244.53L361.98 242.55" stroke="#4472C4" stroke-width="0.8"/><path d="M366.55 250.37L368.33 248.51" stroke="#A5A5A5" stroke-width="0.8"/><path d="M372.77 257.09L374.68 255.36" stroke="#ED7D31" stroke-width="0.8"/><path d="M379 264.92L381.03 263.36" stroke="#FFC000" stroke-width="0.8"/><path d="M385.22 274.25L387.39 272.88" stroke="#5B9BD5" stroke-width="0.8"/><path d="M391.44 285.84L393.74 284.7" stroke="#70AD47" stroke-width="0.8"/><path d="M392.69 288.55L395.01 287.47" stroke="#4472C4" stroke-width="0.8"/><path d="M393.93 291.44L396.28 290.42" stroke="#A5A5A5" stroke-width="0.8"/><path d="M395.18 294.55L397.55 293.59" stroke="#ED7D31" stroke-width="0.8"/><path d="M396.42 297.91L398.82 297.02" stroke="#FFC000" stroke-width="0.8"/><path d="M398.91 305.71L401.36 304.98" stroke="#5B9BD5" stroke-width="0.8"/><path d="M400.16 310.41L402.63 309.78" stroke="#70AD47" stroke-width="0.8"/><path d="M401.4 316.03L403.9 315.52" stroke="#4472C4" stroke-width="0.8"/></g>
<circle cx="341.4" cy="261" r="3.5" fill="url(#gM3)"/>
<circle cx="355" cy="267" r="3.5" fill="url(#gPOS)"/>
<circle cx="373.1" cy="319.6" r="3.5" fill="url(#gHHO)"/>
<circle cx="378.6" cy="341.2" r="3.5" fill="url(#gACT)"/>
<path d="M279.4 211A127.36 130.4 0 0 1 406.76 341.4" stroke="#78AFE2" stroke-width="1.3" fill="none"/>
<path d="M402.96 323.37L406.75 322.82" stroke="#333" stroke-width="0.9" fill="none"/>
<text transform="translate(279.4 210.7) rotate(-90)" x="0" y="2.5" font-size="7.2" class="cl">0.0</text>
<text transform="translate(292.17 211.36) rotate(-84.39)" x="0" y="2.5" font-size="7.2" class="cl">0.1</text>
<text transform="translate(304.93 213.34) rotate(-78.73)" x="0" y="2.5" font-size="7.2" class="cl">0.2</text>
<text transform="translate(317.7 216.72) rotate(-72.93)" x="0" y="2.5" font-size="7.2" class="cl">0.3</text>
<text transform="translate(330.46 221.61) rotate(-66.91)" x="0" y="2.5" font-size="7.2" class="cl">0.4</text>
<text transform="translate(343.23 228.21) rotate(-60.58)" x="0" y="2.5" font-size="7.2" class="cl">0.5</text>
<text transform="translate(355.99 236.84) rotate(-53.78)" x="0" y="2.5" font-size="7.2" class="cl">0.6</text>
<text transform="translate(368.76 248.06) rotate(-46.25)" x="0" y="2.5" font-size="7.2" class="cl">0.7</text>
<text transform="translate(381.53 262.98) rotate(-37.52)" x="0" y="2.5" font-size="7.2" class="cl">0.8</text>
<text transform="translate(394.29 284.43) rotate(-26.38)" x="0" y="2.5" font-size="7.2" class="cl">0.9</text>
<text transform="translate(400.68 300.59) rotate(-13.02)" x="0" y="2.5" font-size="7.2" class="cl">0<tspan class="nw">.95</tspan></text>
<text transform="translate(405.78 322.96) rotate(-4.98)" x="0" y="2.5" font-size="7.2" class="cl">0<tspan class="nw">.99</tspan></text>
<text transform="translate(407.06 341.4) rotate(-0)" x="0" y="2.5" font-size="7.2" class="cl">1.0</text>
<text transform="translate(390 243.3) rotate(44.5)" x="0" y="2.5" font-size="7.1" text-anchor="middle" class="cw">Correlation</text>
<text x="271.6" y="344.15" font-size="7.6" text-anchor="end" class="tk">0</text>
<text x="271.6" y="327.85" font-size="7.6" text-anchor="end" class="tk">0.05</text>
<text x="271.6" y="311.55" font-size="7.6" text-anchor="end" class="tk">0.1</text>
<text x="271.6" y="295.25" font-size="7.6" text-anchor="end" class="tk">0.15</text>
<text x="271.6" y="278.95" font-size="7.6" text-anchor="end" class="tk">0.2</text>
<text x="271.6" y="262.65" font-size="7.6" text-anchor="end" class="tk">0.25</text>
<text x="271.6" y="246.35" font-size="7.6" text-anchor="end" class="tk">0.3</text>
<text x="271.6" y="230.05" font-size="7.6" text-anchor="end" class="tk">0.35</text>
<text x="271.6" y="213.75" font-size="7.6" text-anchor="end" class="tk">0.4</text>
<text x="279.4" y="354.7" font-size="7.4" text-anchor="middle" class="tk">0</text>
<text x="311.24" y="354.7" font-size="7.4" text-anchor="middle" class="tk">0.1</text>
<text x="343.08" y="354.7" font-size="7.4" text-anchor="middle" class="tk">0.2</text>
<text x="374.92" y="354.7" font-size="7.4" text-anchor="middle" class="tk">0.3</text>
<text x="406.76" y="354.7" font-size="7.4" text-anchor="middle" class="tk">0.4</text>
<text x="291.9" y="361.5" font-size="7.2" textLength="111.1" lengthAdjust="spacingAndGlyphs" class="at">Standard Deviation (Normalized)</text>
<text transform="translate(252 319.8) rotate(-90)" x="0" y="0" font-size="7.3" class="at" textLength="110.8" lengthAdjust="spacingAndGlyphs">Standard Deviation (Normalized)</text>
<text x="307.9" y="197.8" font-size="11" textLength="93.4" lengthAdjust="spacingAndGlyphs">Abuja Verification</text>
<text x="328.4" y="253.2" font-size="7.4" textLength="26.6" lengthAdjust="spacingAndGlyphs">SVR-M3</text>
<text x="340.1" y="279.4" font-size="7.4" textLength="29.8" lengthAdjust="spacingAndGlyphs">SVR-POS</text>
<text x="357.9" y="311.3" font-size="7.4" textLength="30.6" lengthAdjust="spacingAndGlyphs">SVR-HHO</text>
<text x="368" y="332.5" font-size="7.4" textLength="20.9" lengthAdjust="spacingAndGlyphs">Actual</text>
<path d="M47 506.65H183.43M47 490.3H183.43M47 473.95H183.43M47 457.6H183.43M47 441.25H183.43M47 424.9H183.43M47 408.55H183.43M47 392.2H183.43M78.88 523V392.2M110.75 523V392.2M142.62 523V392.2M174.5 523V392.2" stroke="#E6E9F1" stroke-width="0.9" fill="none"/>
<path d="M47 523V392.2" stroke="#D4D8E2" stroke-width="1.1" fill="none"/>
<path d="M47 506.65A15.94 16.35 0 0 1 62.94 523" stroke="#6996C9" stroke-width="1.066" fill="none"/>
<path d="M47 490.3A31.88 32.7 0 0 1 78.88 523" stroke="#CC8459" stroke-width="1.066" fill="none"/>
<path d="M47 473.95A47.81 49.05 0 0 1 94.81 523" stroke="#979797" stroke-width="1.066" fill="none"/>
<path d="M47 457.6A63.75 65.4 0 0 1 110.75 523" stroke="#C1A754" stroke-width="1.066" fill="none"/>
<path d="M47 455.31A65.98 67.69 0 0 1 112.98 523" stroke="#B8D4EE" stroke-width="0.9839999999999999" fill="none"/>
<path d="M47 441.25A79.69 81.75 0 0 1 126.69 523" stroke="#687EAC" stroke-width="1.066" fill="none"/>
<path d="M47 424.9A95.62 98.1 0 0 1 142.62 523" stroke="#80A16B" stroke-width="1.066" fill="none"/>
<path d="M96.41 523A15.94 16.35 0 0 1 128.28 523" stroke="#F6BB94" stroke-width="0.902" fill="none"/>
<path d="M80.47 523A31.88 32.7 0 0 1 144.22 523" stroke="#D5D5D5" stroke-width="0.82" fill="none"/>
<path d="M64.53 523A47.81 49.05 0 0 1 160.16 523" stroke="#FFD35A" stroke-width="0.9839999999999999" fill="none"/>
<path d="M48.59 523A63.75 65.4 0 0 1 172.96 502.76" stroke="#89A5E1" stroke-width="0.9839999999999999" fill="none"/>
<path d="M47 476.21A79.69 81.75 0 0 1 155.47 454.26" stroke="#A8D28D" stroke-width="0.9839999999999999" fill="none"/>
<path d="M47 451.38A95.62 98.1 0 0 1 134.09 427.47" stroke="#7DAEE3" stroke-width="1.066" fill="none"/>
<path d="M47 523L123.88 417.84" stroke="#92C573" stroke-width="0.9839999999999999" fill="none"/>
<path d="M47 523L136.7 429.12" stroke="#7596D7" stroke-width="0.9839999999999999" fill="none"/>
<path d="M47 523L149.51 444.13" stroke="#FFD040" stroke-width="1.148" fill="none"/>
<path d="M47 523L162.32 465.7" stroke="#B3B3B3" stroke-width="0.82" fill="none"/>
<path d="M47 523L168.73 481.95" stroke="#F29F66" stroke-width="0.9839999999999999" fill="none"/>
<path d="M47 523H169.72" stroke="#5B9BD5" stroke-width="1.4" fill="none"/>
<path d="M169.72 523H174.5" stroke="#5E9E3A" stroke-width="1.4" fill="none"/>
<g fill="none" opacity="0.9"><path d="M53.23 395.3L53.36 392.69" stroke="#4472C4" stroke-width="0.8"/><path d="M59.46 395.78L59.72 393.18" stroke="#A5A5A5" stroke-width="0.8"/><path d="M65.69 396.59L66.08 394" stroke="#ED7D31" stroke-width="0.8"/><path d="M71.93 397.73L72.44 395.16" stroke="#FFC000" stroke-width="0.8"/><path d="M78.16 399.2L78.8 396.67" stroke="#5B9BD5" stroke-width="0.8"/><path d="M84.39 401.03L85.15 398.54" stroke="#70AD47" stroke-width="0.8"/><path d="M90.62 403.23L91.51 400.78" stroke="#4472C4" stroke-width="0.8"/><path d="M96.85 405.82L97.87 403.42" stroke="#A5A5A5" stroke-width="0.8"/><path d="M103.08 408.82L104.23 406.48" stroke="#ED7D31" stroke-width="0.8"/><path d="M109.32 412.27L110.59 410.01" stroke="#FFC000" stroke-width="0.8"/><path d="M115.55 416.22L116.95 414.03" stroke="#5B9BD5" stroke-width="0.8"/><path d="M121.78 420.71L123.31 418.62" stroke="#70AD47" stroke-width="0.8"/><path d="M128.01 425.84L129.67 423.85" stroke="#4472C4" stroke-width="0.8"/><path d="M134.24 431.69L136.03 429.82" stroke="#A5A5A5" stroke-width="0.8"/><path d="M140.47 438.43L142.39 436.7" stroke="#ED7D31" stroke-width="0.8"/><path d="M146.71 446.29L148.75 444.72" stroke="#FFC000" stroke-width="0.8"/><path d="M152.94 455.65L155.1 454.27" stroke="#5B9BD5" stroke-width="0.8"/><path d="M159.17 467.27L161.46 466.13" stroke="#70AD47" stroke-width="0.8"/><path d="M160.41 469.99L162.73 468.9" stroke="#4472C4" stroke-width="0.8"/><path d="M161.66 472.89L164.01 471.87" stroke="#A5A5A5" stroke-width="0.8"/><path d="M162.91 476L165.28 475.04" stroke="#ED7D31" stroke-width="0.8"/><path d="M164.15 479.38L166.55 478.49" stroke="#FFC000" stroke-width="0.8"/><path d="M166.65 487.2L169.09 486.47" stroke="#5B9BD5" stroke-width="0.8"/><path d="M167.89 491.92L170.37 491.28" stroke="#70AD47" stroke-width="0.8"/><path d="M169.14 497.56L171.64 497.04" stroke="#4472C4" stroke-width="0.8"/></g>
<circle cx="102.2" cy="485.3" r="3.5" fill="url(#gPOS)"/>
<circle cx="112.2" cy="509.4" r="3.5" fill="url(#gM3)"/>
<circle cx="117.9" cy="515.2" r="3.5" fill="url(#gHHO)"/>
<circle cx="117.9" cy="522.5" r="3.5" fill="url(#gACT)"/>
<path d="M47 392.2A127.5 130.8 0 0 1 174.5 523" stroke="#78AFE2" stroke-width="1.3" fill="none"/>
<path d="M170.7 504.92L174.49 504.36" stroke="#333" stroke-width="0.9" fill="none"/>
<text transform="translate(47 391.9) rotate(-90)" x="0" y="2.5" font-size="7.2" class="cl">0.0</text>
<text transform="translate(59.78 392.56) rotate(-84.4)" x="0" y="2.5" font-size="7.2" class="cl">0.1</text>
<text transform="translate(72.56 394.55) rotate(-78.75)" x="0" y="2.5" font-size="7.2" class="cl">0.2</text>
<text transform="translate(85.34 397.94) rotate(-72.96)" x="0" y="2.5" font-size="7.2" class="cl">0.3</text>
<text transform="translate(98.12 402.84) rotate(-66.95)" x="0" y="2.5" font-size="7.2" class="cl">0.4</text>
<text transform="translate(110.9 409.46) rotate(-60.63)" x="0" y="2.5" font-size="7.2" class="cl">0.5</text>
<text transform="translate(123.68 418.12) rotate(-53.83)" x="0" y="2.5" font-size="7.2" class="cl">0.6</text>
<text transform="translate(136.46 429.37) rotate(-46.3)" x="0" y="2.5" font-size="7.2" class="cl">0.7</text>
<text transform="translate(149.24 444.34) rotate(-37.58)" x="0" y="2.5" font-size="7.2" class="cl">0.8</text>
<text transform="translate(162.02 465.85) rotate(-26.42)" x="0" y="2.5" font-size="7.2" class="cl">0.9</text>
<text transform="translate(168.41 482.06) rotate(-13.04)" x="0" y="2.5" font-size="7.2" class="cl">0<tspan class="nw">.95</tspan></text>
<text transform="translate(173.52 504.5) rotate(-4.99)" x="0" y="2.5" font-size="7.2" class="cl">0<tspan class="nw">.99</tspan></text>
<text transform="translate(174.8 523) rotate(-0)" x="0" y="2.5" font-size="7.2" class="cl">1.0</text>
<text transform="translate(157.2 424.2) rotate(44.5)" x="0" y="2.5" font-size="7.1" text-anchor="middle" class="cw">Correlation</text>
<text x="39.2" y="525.75" font-size="7.6" text-anchor="end" class="tk">0</text>
<text x="39.2" y="509.4" font-size="7.6" text-anchor="end" class="tk">0.05</text>
<text x="39.2" y="493.05" font-size="7.6" text-anchor="end" class="tk">0.1</text>
<text x="39.2" y="476.7" font-size="7.6" text-anchor="end" class="tk">0.15</text>
<text x="39.2" y="460.35" font-size="7.6" text-anchor="end" class="tk">0.2</text>
<text x="39.2" y="444" font-size="7.6" text-anchor="end" class="tk">0.25</text>
<text x="39.2" y="427.65" font-size="7.6" text-anchor="end" class="tk">0.3</text>
<text x="39.2" y="411.3" font-size="7.6" text-anchor="end" class="tk">0.35</text>
<text x="39.2" y="394.95" font-size="7.6" text-anchor="end" class="tk">0.4</text>
<text x="47" y="536.3" font-size="7.4" text-anchor="middle" class="tk">0</text>
<text x="78.88" y="536.3" font-size="7.4" text-anchor="middle" class="tk">0.1</text>
<text x="110.75" y="536.3" font-size="7.4" text-anchor="middle" class="tk">0.2</text>
<text x="142.62" y="536.3" font-size="7.4" text-anchor="middle" class="tk">0.3</text>
<text x="174.5" y="536.3" font-size="7.4" text-anchor="middle" class="tk">0.4</text>
<text x="59.5" y="543.1" font-size="7.2" textLength="111.6" lengthAdjust="spacingAndGlyphs" class="at">Standard Deviation (Normalized)</text>
<text transform="translate(19.1 507.4) rotate(-90)" x="0" y="0" font-size="7.3" class="at" textLength="110.1" lengthAdjust="spacingAndGlyphs">Standard Deviation (Normalized)</text>
<text x="83.7" y="379.3" font-size="11" textLength="88.4" lengthAdjust="spacingAndGlyphs">Niger Calibration</text>
<text x="88" y="476.4" font-size="7.4" textLength="28.8" lengthAdjust="spacingAndGlyphs">SVR-POS</text>
<text x="98.4" y="501.5" font-size="7.4" textLength="27.9" lengthAdjust="spacingAndGlyphs">SVR-M3</text>
<text x="126.9" y="516.8" font-size="7.4" textLength="30.7" lengthAdjust="spacingAndGlyphs">SVR-HHO</text>
<text x="126.9" y="524.5" font-size="7.4" textLength="20.3" lengthAdjust="spacingAndGlyphs">Actual</text>
<path d="M279.5 506.7H416.03M279.5 490.4H416.03M279.5 474.1H416.03M279.5 457.8H416.03M279.5 441.5H416.03M279.5 425.2H416.03M279.5 408.9H416.03M279.5 392.6H416.03M311.4 523V392.6M343.3 523V392.6M375.2 523V392.6M407.1 523V392.6" stroke="#E6E9F1" stroke-width="0.9" fill="none"/>
<path d="M279.5 523V392.6" stroke="#D4D8E2" stroke-width="1.1" fill="none"/>
<path d="M279.5 506.7A15.95 16.3 0 0 1 295.45 523" stroke="#6996C9" stroke-width="1.066" fill="none"/>
<path d="M279.5 490.4A31.9 32.6 0 0 1 311.4 523" stroke="#CC8459" stroke-width="1.066" fill="none"/>
<path d="M279.5 474.1A47.85 48.9 0 0 1 327.35 523" stroke="#979797" stroke-width="1.066" fill="none"/>
<path d="M279.5 457.8A63.8 65.2 0 0 1 343.3 523" stroke="#C1A754" stroke-width="1.066" fill="none"/>
<path d="M279.5 455.52A66.03 67.48 0 0 1 345.53 523" stroke="#B8D4EE" stroke-width="0.9839999999999999" fill="none"/>
<path d="M279.5 441.5A79.75 81.5 0 0 1 359.25 523" stroke="#687EAC" stroke-width="1.066" fill="none"/>
<path d="M279.5 425.2A95.7 97.8 0 0 1 375.2 523" stroke="#80A16B" stroke-width="1.066" fill="none"/>
<path d="M328.94 523A15.95 16.3 0 0 1 360.85 523" stroke="#F6BB94" stroke-width="0.902" fill="none"/>
<path d="M313 523A31.9 32.6 0 0 1 376.8 523" stroke="#D5D5D5" stroke-width="0.82" fill="none"/>
<path d="M297.05 523A47.85 48.9 0 0 1 392.75 523" stroke="#FFD35A" stroke-width="0.9839999999999999" fill="none"/>
<path d="M281.09 523A63.8 65.2 0 0 1 405.56 502.82" stroke="#89A5E1" stroke-width="0.9839999999999999" fill="none"/>
<path d="M279.5 476.35A79.75 81.5 0 0 1 388.06 454.47" stroke="#A8D28D" stroke-width="0.9839999999999999" fill="none"/>
<path d="M279.5 451.6A95.7 97.8 0 0 1 366.66 427.76" stroke="#7DAEE3" stroke-width="1.066" fill="none"/>
<path d="M279.5 523L356.44 418.16" stroke="#92C573" stroke-width="0.9839999999999999" fill="none"/>
<path d="M279.5 523L369.27 429.41" stroke="#7596D7" stroke-width="0.9839999999999999" fill="none"/>
<path d="M279.5 523L382.09 444.37" stroke="#FFD040" stroke-width="1.148" fill="none"/>
<path d="M279.5 523L394.91 465.88" stroke="#B3B3B3" stroke-width="0.82" fill="none"/>
<path d="M279.5 523L401.33 482.08" stroke="#F29F66" stroke-width="0.9839999999999999" fill="none"/>
<path d="M279.5 523H402.31" stroke="#5B9BD5" stroke-width="1.4" fill="none"/>
<path d="M402.31 523H407.1" stroke="#5E9E3A" stroke-width="1.4" fill="none"/>
<g fill="none" opacity="0.9"><path d="M285.74 395.69L285.86 393.09" stroke="#4472C4" stroke-width="0.8"/><path d="M291.97 396.17L292.23 393.58" stroke="#A5A5A5" stroke-width="0.8"/><path d="M298.21 396.98L298.59 394.4" stroke="#ED7D31" stroke-width="0.8"/><path d="M304.45 398.11L304.96 395.55" stroke="#FFC000" stroke-width="0.8"/><path d="M310.68 399.58L311.32 397.06" stroke="#5B9BD5" stroke-width="0.8"/><path d="M316.92 401.41L317.68 398.92" stroke="#70AD47" stroke-width="0.8"/><path d="M323.16 403.6L324.05 401.15" stroke="#4472C4" stroke-width="0.8"/><path d="M329.39 406.18L330.41 403.79" stroke="#A5A5A5" stroke-width="0.8"/><path d="M335.63 409.17L336.78 406.84" stroke="#ED7D31" stroke-width="0.8"/><path d="M341.86 412.61L343.14 410.35" stroke="#FFC000" stroke-width="0.8"/><path d="M348.1 416.54L349.5 414.37" stroke="#5B9BD5" stroke-width="0.8"/><path d="M354.34 421.03L355.87 418.94" stroke="#70AD47" stroke-width="0.8"/><path d="M360.57 426.13L362.23 424.15" stroke="#4472C4" stroke-width="0.8"/><path d="M366.81 431.97L368.6 430.11" stroke="#A5A5A5" stroke-width="0.8"/><path d="M373.05 438.69L374.96 436.96" stroke="#ED7D31" stroke-width="0.8"/><path d="M379.28 446.52L381.32 444.96" stroke="#FFC000" stroke-width="0.8"/><path d="M385.52 455.85L387.69 454.48" stroke="#5B9BD5" stroke-width="0.8"/><path d="M391.76 467.44L394.05 466.3" stroke="#70AD47" stroke-width="0.8"/><path d="M393 470.15L395.33 469.07" stroke="#4472C4" stroke-width="0.8"/><path d="M394.25 473.04L396.6 472.02" stroke="#A5A5A5" stroke-width="0.8"/><path d="M395.5 476.15L397.87 475.19" stroke="#ED7D31" stroke-width="0.8"/><path d="M396.75 479.51L399.14 478.62" stroke="#FFC000" stroke-width="0.8"/><path d="M399.24 487.31L401.69 486.58" stroke="#5B9BD5" stroke-width="0.8"/><path d="M400.49 492.01L402.96 491.38" stroke="#70AD47" stroke-width="0.8"/><path d="M401.73 497.63L404.24 497.12" stroke="#4472C4" stroke-width="0.8"/></g>
<circle cx="389" cy="492" r="3.5" fill="url(#gM3)"/>
<circle cx="389.5" cy="491.8" r="3.5" fill="url(#gPOS)"/>
<circle cx="392.6" cy="501.4" r="3.5" fill="url(#gHHO)"/>
<circle cx="397.7" cy="523" r="3.5" fill="url(#gACT)"/>
<path d="M279.5 392.6A127.6 130.4 0 0 1 407.1 523" stroke="#78AFE2" stroke-width="1.3" fill="none"/>
<path d="M403.3 504.97L407.09 504.42" stroke="#333" stroke-width="0.9" fill="none"/>
<text transform="translate(279.5 392.3) rotate(-90)" x="0" y="2.5" font-size="7.2" class="cl">0.0</text>
<text transform="translate(292.29 392.96) rotate(-84.38)" x="0" y="2.5" font-size="7.2" class="cl">0.1</text>
<text transform="translate(305.08 394.94) rotate(-78.7)" x="0" y="2.5" font-size="7.2" class="cl">0.2</text>
<text transform="translate(317.87 398.32) rotate(-72.9)" x="0" y="2.5" font-size="7.2" class="cl">0.3</text>
<text transform="translate(330.66 403.21) rotate(-66.87)" x="0" y="2.5" font-size="7.2" class="cl">0.4</text>
<text transform="translate(343.45 409.81) rotate(-60.54)" x="0" y="2.5" font-size="7.2" class="cl">0.5</text>
<text transform="translate(356.24 418.44) rotate(-53.73)" x="0" y="2.5" font-size="7.2" class="cl">0.6</text>
<text transform="translate(369.03 429.66) rotate(-46.19)" x="0" y="2.5" font-size="7.2" class="cl">0.7</text>
<text transform="translate(381.82 444.58) rotate(-37.47)" x="0" y="2.5" font-size="7.2" class="cl">0.8</text>
<text transform="translate(394.61 466.03) rotate(-26.33)" x="0" y="2.5" font-size="7.2" class="cl">0.9</text>
<text transform="translate(401 482.19) rotate(-13)" x="0" y="2.5" font-size="7.2" class="cl">0<tspan class="nw">.95</tspan></text>
<text transform="translate(406.12 504.56) rotate(-4.97)" x="0" y="2.5" font-size="7.2" class="cl">0<tspan class="nw">.99</tspan></text>
<text transform="translate(407.4 523) rotate(-0)" x="0" y="2.5" font-size="7.2" class="cl">1.0</text>
<text transform="translate(382.1 418.1) rotate(44.5)" x="0" y="2.5" font-size="7.1" text-anchor="middle" class="cw">Correla</text>
<text transform="translate(374.8 424.6) rotate(44.5)" x="0" y="2.5" font-size="7.1" text-anchor="middle" class="cw">tion</text>
<text x="271.7" y="525.75" font-size="7.6" text-anchor="end" class="tk">0</text>
<text x="271.7" y="509.45" font-size="7.6" text-anchor="end" class="tk">0.05</text>
<text x="271.7" y="493.15" font-size="7.6" text-anchor="end" class="tk">0.1</text>
<text x="271.7" y="476.85" font-size="7.6" text-anchor="end" class="tk">0.15</text>
<text x="271.7" y="460.55" font-size="7.6" text-anchor="end" class="tk">0.2</text>
<text x="271.7" y="444.25" font-size="7.6" text-anchor="end" class="tk">0.25</text>
<text x="271.7" y="427.95" font-size="7.6" text-anchor="end" class="tk">0.3</text>
<text x="271.7" y="411.65" font-size="7.6" text-anchor="end" class="tk">0.35</text>
<text x="271.7" y="395.35" font-size="7.6" text-anchor="end" class="tk">0.4</text>
<text x="279.5" y="536.3" font-size="7.4" text-anchor="middle" class="tk">0</text>
<text x="311.4" y="536.3" font-size="7.4" text-anchor="middle" class="tk">0.1</text>
<text x="343.3" y="536.3" font-size="7.4" text-anchor="middle" class="tk">0.2</text>
<text x="375.2" y="536.3" font-size="7.4" text-anchor="middle" class="tk">0.3</text>
<text x="407.1" y="536.3" font-size="7.4" text-anchor="middle" class="tk">0.4</text>
<text x="291.9" y="543.4" font-size="7.2" textLength="111.1" lengthAdjust="spacingAndGlyphs" class="at">Standard Deviation (Normalized)</text>
<text transform="translate(252.2 511.2) rotate(-90)" x="0" y="0" font-size="7.3" class="at" textLength="112.1" lengthAdjust="spacingAndGlyphs">Standard Deviation (Normalized)</text>
<text x="311.4" y="382" font-size="11" textLength="91" lengthAdjust="spacingAndGlyphs">Niger Verification</text>
<text x="370.7" y="483.5" font-size="7.4" textLength="26.5" lengthAdjust="spacingAndGlyphs">SVR-M3</text>
<text x="392.3" y="496.3" font-size="7.4" textLength="30" lengthAdjust="spacingAndGlyphs">SVR-POS</text>
<text x="385.3" y="513" font-size="7.4" textLength="30.7" lengthAdjust="spacingAndGlyphs">SVR-HHO</text>
<text x="367.5" y="526.2" font-size="7.4" textLength="21.2" lengthAdjust="spacingAndGlyphs">Actual</text>
</svg>
</body></html>
